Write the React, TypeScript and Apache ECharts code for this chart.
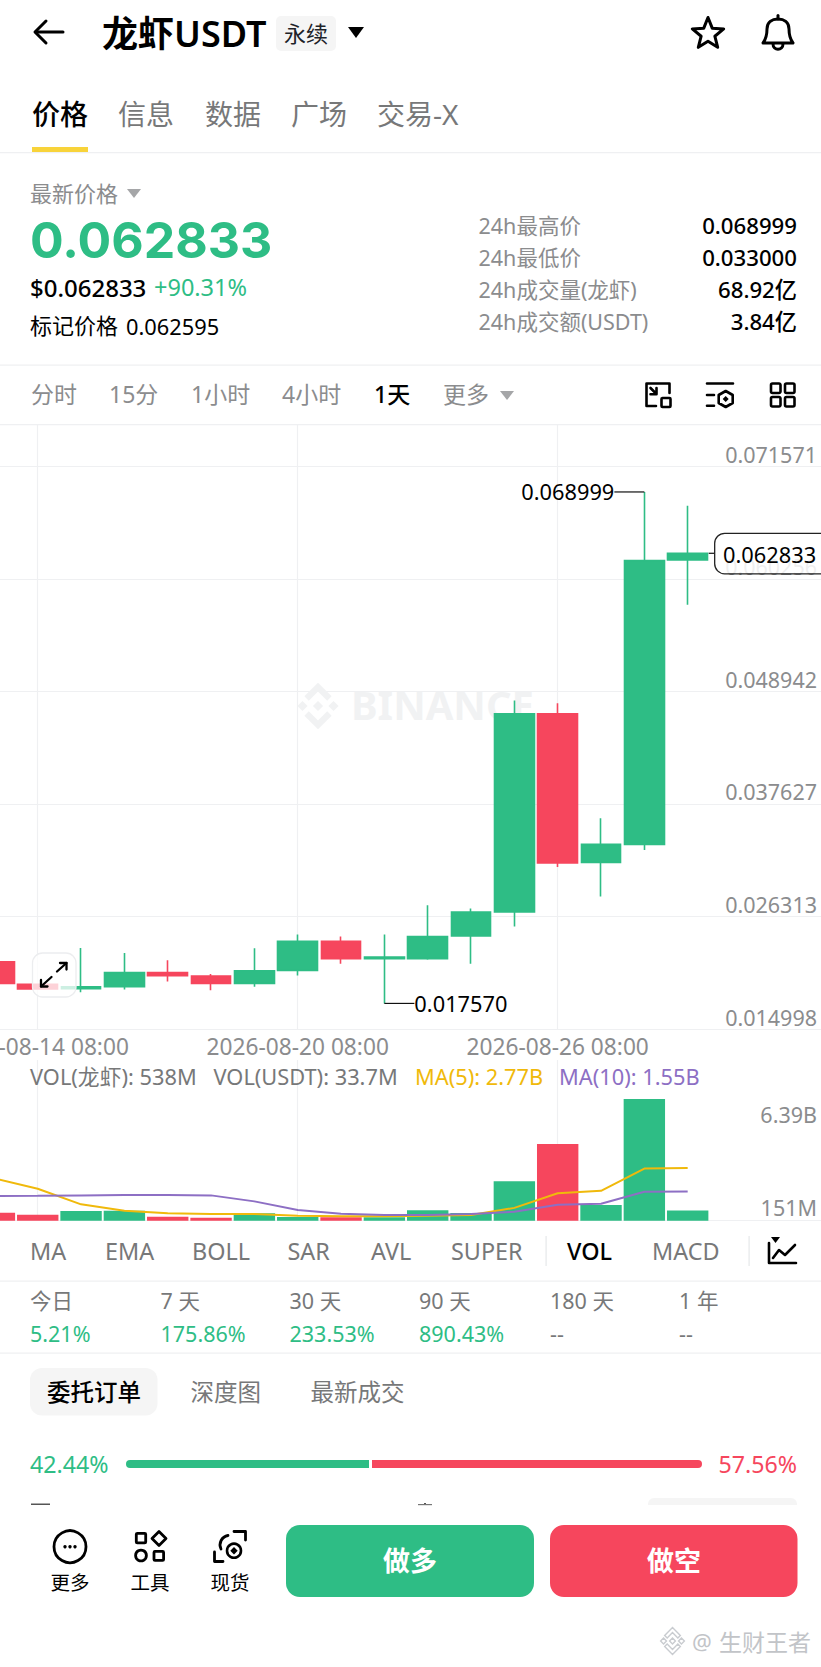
import React, { useEffect, useRef } from "react";
import * as echarts from "echarts";

const categories = [
  "2026-08-13 08:00", "2026-08-14 08:00", "2026-08-15 08:00", "2026-08-16 08:00", "2026-08-17 08:00",
  "2026-08-18 08:00", "2026-08-19 08:00", "2026-08-20 08:00", "2026-08-21 08:00", "2026-08-22 08:00",
  "2026-08-23 08:00", "2026-08-24 08:00", "2026-08-25 08:00", "2026-08-26 08:00", "2026-08-27 08:00",
  "2026-08-28 08:00", "2026-08-29 08:00", "2026-08-30 08:00", "2026-08-31 08:00", "2026-09-01 08:00", "2026-09-02 08:00",
];
const labelledDates = ["2026-08-14 08:00", "2026-08-20 08:00", "2026-08-26 08:00"];
// open, close, low, high
const candles = [
  [0.021757, 0.01957, 0.019372, 0.021956],
  [0.019491, 0.019014, 0.018934, 0.01957],
  [0.019054, 0.019252, 0.018696, 0.023149],
  [0.019252, 0.020684, 0.018974, 0.022632],
  [0.020684, 0.020366, 0.019769, 0.021916],
  [0.020326, 0.01957, 0.018894, 0.020525],
  [0.01957, 0.020843, 0.019252, 0.023109],
  [0.020882, 0.023825, 0.020366, 0.024501],
  [0.023825, 0.022075, 0.021558, 0.024302],
  [0.022075, 0.022234, 0.01757, 0.024501],
  [0.022075, 0.024302, 0.021956, 0.027443],
  [0.024342, 0.026767, 0.021558, 0.027125],
  [0.026767, 0.046687, 0.025296, 0.048039],
  [0.046687, 0.031697, 0.0313, 0.04776],
  [0.031737, 0.033566, 0.028318, 0.03619],
  [0.033566, 0.062114, 0.033009, 0.068999],
  [0.06215, 0.062833, 0.05766, 0.067601],
];
const volumes = [420e6, 315e6, 508e6, 525e6, 210e6, 151e6, 385e6, 193e6, 175e6, 175e6, 543e6, 403e6, 2.07e9, 4.03e9, 823e6, 6.39e9, 538e6];
const ma5 = [2.22e9, 1.68e9, 858e6, 525e6, 385e6, 350e6, 350e6, 263e6, 228e6, 228e6, 263e6, 298e6, 673e6, 1.44e9, 1.57e9, 2.74e9, 2.77e9];
const ma10 = [1.3e9, 1.31e9, 1.33e9, 1.35e9, 1.35e9, 1.33e9, 1.015e9, 560e6, 368e6, 298e6, 298e6, 350e6, 473e6, 840e6, 893e6, 1.52e9, 1.54e9];
const priceTicks = [0.014998, 0.026313, 0.037627, 0.048942, 0.060256, 0.071571];
const priceMin = 0.014998;
const priceMax = 0.075782;
const volMax = 8.44e9;
const volTopTick = [6.39e9];
const volLowTick = [151e6];
const extremes = [
  { idx: 15, value: 0.068999, label: "0.068999", side: -1 },
  { idx: 9, value: 0.01757, label: "0.017570", side: 1 },
];
const lastPrice = { idx: 16, value: 0.062833, label: "0.062833" };

const tabs = ["信息", "数据", "广场", "交易-X"];
const stats = [
  ["24h最高价", "0.068999"],
  ["24h最低价", "0.033000"],
  ["24h成交量(龙虾)", "68.92亿"],
  ["24h成交额(USDT)", "3.84亿"],
];
const intervals = ["分时", "15分", "1小时", "4小时", "1天", "更多"];
const indicators = ["MA", "EMA", "BOLL", "SAR", "AVL", "SUPER", "VOL", "MACD"];
const periodLabels = ["今日", "7 天", "30 天", "90 天", "180 天", "1 年"];
const periodValues = ["5.21%", "175.86%", "233.53%", "890.43%", "--", "--"];
const volLegend = ["VOL(龙虾): 538M", "VOL(USDT): 33.7M", "MA(5): 2.77B", "MA(10): 1.55B"];
const bookTabs = ["委托订单", "深度图", "最新成交"];

const GREEN = "#2EBD85";
const RED = "#F6465D";
const GREY = "#777879";
const LIGHT = "#8B8C8E";
const LINE = "#EFF0F2";
const FONT = '"Noto Sans", "Noto Sans CJK SC", sans-serif';

function diamond(cx: number, cy: number, r: number) {
  return `M${cx - r} ${cy}L${cx} ${cy - r}L${cx + r} ${cy}L${cx} ${cy + r}Z`;
}
function binanceD(cx: number, cy: number, s: number) {
  const c = (x: number, y: number) => `${cx + x * s} ${cy + y * s}`;
  return (
    diamond(cx, cy, 5.2 * s) +
    diamond(cx - 16 * s, cy, 5.2 * s) +
    diamond(cx + 16 * s, cy, 5.2 * s) +
    `M${c(0, -24)}L${c(14, -10)}L${c(9.5, -5.5)}L${c(0, -15)}L${c(-9.5, -5.5)}L${c(-14, -10)}Z` +
    `M${c(0, 24)}L${c(14, 10)}L${c(9.5, 5.5)}L${c(0, 15)}L${c(-9.5, 5.5)}L${c(-14, 10)}Z`
  );
}
function starPoints(cx: number, cy: number, R: number, r: number) {
  const pts: number[][] = [];
  for (let i = 0; i < 10; i++) {
    const a = -Math.PI / 2 + (i * Math.PI) / 5;
    const rad = i % 2 ? r : R;
    pts.push([cx + rad * Math.cos(a), cy + rad * Math.sin(a)]);
  }
  return pts;
}

const extendFrom = (d: string) => (echarts.graphic as any).extendPath(d, {});
echarts.graphic.registerShape("bnbMark", extendFrom(binanceD(318, 706, 0.97)));
echarts.graphic.registerShape("bnbSmall", extendFrom(binanceD(672.5, 1641, 0.56)));
echarts.graphic.registerShape(
  "bellIcon",
  extendFrom("M763 43C766 39 767 35 767 29C767 22 772 19 778 19C784 19 789 22 789 29C789 35 790 39 793 43ZM773 44C773 51 783 51 783 44")
);
echarts.graphic.registerShape("frameIcon", extendFrom("M656 406H646.5V383.5H669.5V393M650.5 388L656.5 394M656.5 388V394.3H650.5"));
echarts.graphic.registerShape("targetIcon", extendFrom("M707 383.5H733M707 395H714M707 405.7H714M725.7 391L732.7 395V403L725.7 407L718.7 403V395Z"));
echarts.graphic.registerShape("spotIcon", extendFrom("M234 1531.5H245.5V1540M214.5 1552V1561.5H223M228 1535.5A9.5 9.5 0 0 0 221 1549"));

const T = (text: string, x: number, y: number, size: number, fill: string, align = "left", weight: number | string = 400, family = FONT) => ({
  type: "text",
  z: 100,
  x,
  y,
  silent: true,
  style: { text, fill, fontSize: size, fontWeight: weight, fontFamily: family, textAlign: align, textVerticalAlign: "middle" },
});
const R = (x: number, y: number, width: number, height: number, fill: string, r: any = 0, z = 100) => ({
  type: "rect", z, silent: true, shape: { x, y, width, height, r }, style: { fill },
});
const Rule = (y: number) => R(0, y - 0.5, 821, 1.2, LINE);
const strokeStyle = (w = 3, c = "#000") => ({ stroke: c, lineWidth: w, fill: "none", lineCap: "round", lineJoin: "round" });
const PL = (points: number[][], w = 3, c = "#000") => ({ type: "polyline", z: 100, silent: true, shape: { points }, style: strokeStyle(w, c) });
const PG = (points: number[][], fill: string) => ({ type: "polygon", z: 100, silent: true, shape: { points }, style: { fill } });
const Icon = (type: string, w = 3) => ({ type, z: 100, silent: true, style: strokeStyle(w) });
const BoxS = (x: number, y: number, w: number, h: number, r = 2, lw = 3) => ({
  type: "rect", z: 100, silent: true, shape: { x, y, width: w, height: h, r }, style: strokeStyle(lw),
});

function uiElements() {
  const els: any[] = [];
  // header
  els.push(PL([[36, 32], [63, 32]]), PL([[46, 21], [35, 32], [46, 43]]));
  els.push(T("龙虾USDT", 102, 33, 36, "#000", "left", 600));
  els.push(R(276, 16, 60, 35, "#F5F5F5", 5));
  els.push(T("永续", 306, 33, 22, "#1E2329", "center"));
  els.push(PG([[348, 27], [364, 27], [356, 38]], "#000"));
  els.push({ type: "polygon", z: 100, silent: true, shape: { points: starPoints(708, 34, 16.5, 7.2) }, style: strokeStyle(3) });
  els.push(Icon("bellIcon"), PL([[778, 15.5], [778, 19]]));
  // tabs
  els.push(T("价格", 32, 113.5, 28, "#000", "left", 500));
  [118, 205, 291, 377].forEach((x, i) => els.push(T(tabs[i], x, 113.5, 28, GREY)));
  els.push(R(32, 147, 56, 5, "#F8D33A"), Rule(152.5));
  // price block
  els.push(T("最新价格", 30, 193, 22, LIGHT));
  els.push(PG([[127, 189], [141, 189], [134, 198]], "#A5A6A8"));
  els.push(T("0.062833", 30, 240, 50, GREEN, "left", 700, 'Inter, "Noto Sans", sans-serif'));
  els.push(T("$0.062833", 30, 287, 24, "#000", "left", 500));
  els.push(T("+90.31%", 154, 287, 23.5, GREEN));
  els.push(T("标记价格", 30, 325, 22, "#000"));
  els.push(T("0.062595", 126, 326, 21.8, "#000"));
  stats.forEach((s, i) => {
    els.push(T(s[0], 478.5, 225.7 + i * 32, 21.5, LIGHT));
    els.push(T(s[1], 797, 225.7 + i * 32, 22.2, "#000", "right", 500));
  });
  els.push(Rule(365), Rule(424.5));
  // intervals
  [31, 109, 191, 282, 374, 443].forEach((x, i) => els.push(T(intervals[i], x, 394, 23, i === 4 ? "#000" : LIGHT, "left", i === 4 ? 500 : 400)));
  els.push(PG([[500, 391], [514, 391], [507, 400]], "#A5A6A8"));
  els.push(Icon("frameIcon", 2.6), BoxS(661.5, 398, 9, 9, 1, 2.6));
  els.push(Icon("targetIcon", 2.6), PG([[725.7, 396], [728.7, 399], [725.7, 402], [722.7, 399]], "#000"));
  [[771, 383.5], [785, 383.5], [771, 397], [785, 397]].forEach((p) => els.push(BoxS(p[0], p[1], 9.5, 9.5, 1.5, 2.6)));
  // watermark + expand box
  els.push({ type: "bnbMark", z: 1, silent: true, style: { fill: "#F1F2F3" } });
  els.push({ type: "text", z: 1, x: 351, y: 704.5, silent: true, style: { text: "BINANCE", fill: "#F1F2F3", fontSize: 40, fontWeight: 700, fontFamily: FONT, textAlign: "left", textVerticalAlign: "middle" } });
  els.push({ type: "rect", z: 50, silent: true, shape: { x: 32.5, y: 953, width: 43.5, height: 44, r: 10 }, style: { fill: "rgba(255,255,255,0.76)", stroke: "#ECEDEF", lineWidth: 1.3 } });
  els.push(PL([[41, 986.5], [51.5, 977]], 2.3), PL([[41, 980], [41, 986.5], [47.5, 986.5]], 2.3));
  els.push(PL([[66.5, 963], [57, 971.5]], 2.3), PL([[60, 963], [66.5, 963], [66.5, 969.5]], 2.3));
  // vol legend
  els.push(T(volLegend[0], 30, 1076, 21.8, GREY), T(volLegend[1], 213.5, 1076, 21.8, GREY), T(volLegend[2], 415, 1076, 21.8, "#F0B90B"), T(volLegend[3], 559, 1076, 21.8, "#8D6FC4"));
  // indicator row
  [30, 105, 192, 287.5, 371, 451, 567, 652].forEach((x, i) => els.push(T(indicators[i], x, 1251, 23.4, i === 6 ? "#000" : GREY, "left", i === 6 ? 500 : 400)));
  els.push(R(545.5, 1236, 1.2, 30, "#E6E8EA"), R(748.5, 1236, 1.2, 30, "#E6E8EA"));
  els.push(PL([[769, 1243], [769, 1263], [796, 1263]], 2.6), PL([[773, 1258], [779, 1250], [785, 1255], [795, 1245]], 2.6));
  els.push(PG([[771, 1237], [780, 1237], [775.5, 1243]], "#000"));
  els.push(Rule(1281), Rule(1353));
  // periods
  [30, 160.5, 289.5, 419, 550, 679].forEach((x, i) => {
    els.push(T(periodLabels[i], x, 1300, 21.5, GREY));
    els.push(T(periodValues[i], x, 1333.5, 21.5, i < 4 ? GREEN : GREY));
  });
  // order-book tabs
  els.push(R(30, 1368, 127.5, 47.5, "#F5F5F5", 12));
  els.push(T(bookTabs[0], 47, 1391.5, 23.5, "#000", "left", 500), T(bookTabs[1], 190.5, 1391.5, 23.5, GREY), T(bookTabs[2], 310.5, 1391.5, 23.5, GREY));
  els.push(T("42.44%", 30, 1464, 23.2, GREEN), T("57.56%", 797, 1464, 23.2, RED, "right"));
  els.push(R(126, 1460, 243, 8, GREEN, [4, 0, 0, 4]), R(372, 1460, 330, 8, RED, [0, 4, 4, 0]));
  // clipped row
  els.push(R(31, 1503.5, 19, 1.5, "#555"), R(424, 1503, 2, 2, "#555"), R(418, 1504, 14, 1.2, "#777"));
  els.push(R(648, 1498, 149, 7, "#F5F5F5", [6, 6, 0, 0]));
  // bottom bar
  els.push({ type: "circle", z: 100, silent: true, shape: { cx: 70, cy: 1546.7, r: 16 }, style: strokeStyle(2.8) });
  [65, 70, 75].forEach((x) => els.push({ type: "circle", z: 100, silent: true, shape: { cx: x, cy: 1546.7, r: 1.7 }, style: { fill: "#000" } }));
  els.push(T("更多", 70, 1582, 19.5, "#000", "center"), T("工具", 150, 1582, 19.5, "#000", "center"), T("现货", 230, 1582, 19.5, "#000", "center"));
  els.push(BoxS(136.3, 1533.3, 9.4, 9.6, 1, 2.8), BoxS(154, 1551.4, 9.6, 9, 1, 2.8));
  els.push({ type: "polygon", z: 100, silent: true, shape: { points: [[159, 1531.5], [166, 1538.5], [159, 1545.5], [152, 1538.5]] }, style: strokeStyle(2.8) });
  els.push({ type: "circle", z: 100, silent: true, shape: { cx: 141, cy: 1555.5, r: 5.4 }, style: strokeStyle(2.8) });
  els.push(Icon("spotIcon", 2.8), { type: "circle", z: 100, silent: true, shape: { cx: 234, cy: 1550.7, r: 7 }, style: strokeStyle(2.6) });
  els.push(PG([[234, 1547], [237.7, 1550.7], [234, 1554.4], [230.3, 1550.7]], "#000"));
  els.push(R(286, 1525, 248, 72, GREEN, 14), R(550, 1525, 247.5, 72, RED, 14));
  els.push(T("做多", 410, 1560, 27, "#fff", "center", 600), T("做空", 674, 1560, 27, "#fff", "center", 600));
  // image watermark
  els.push({ type: "bnbSmall", z: 100, silent: true, style: { fill: "none", stroke: "#C9CCD0", lineWidth: 1.4 } });
  els.push(T("@", 692, 1641, 22, "#C2C4C8"), T("生财王者", 719, 1641.5, 23, "#C2C4C8"));
  return els;
}

const dirColor = (i: number) => (candles[i][1] >= candles[i][0] ? GREEN : RED);
const showDate = (_: number, v: string) => labelledDates.includes(v);

const option: any = {
  animation: false,
  backgroundColor: "#fff",
  textStyle: { fontFamily: FONT },
  grid: [
    { left: -5.6, right: -40, top: 424.5, height: 604.5, outerBoundsMode: "none", containLabel: false },
    { left: -5.6, right: -40, top: 1060, height: 160.7, outerBoundsMode: "none", containLabel: false },
  ],
  xAxis: [
    {
      type: "category", gridIndex: 0, data: categories, boundaryGap: false,
      axisLine: { lineStyle: { color: LINE, width: 1.2 } }, axisTick: { show: false },
      axisLabel: { interval: showDate, color: LIGHT, fontSize: 22.7, margin: 6, fontFamily: FONT, hideOverlap: false },
      splitLine: { show: true, interval: showDate, lineStyle: { color: LINE, width: 1.2 } },
    },
    {
      type: "category", gridIndex: 1, data: categories, boundaryGap: false,
      axisLine: { lineStyle: { color: LINE, width: 1.2 } }, axisTick: { show: false }, axisLabel: { show: false },
      splitLine: { show: true, interval: showDate, lineStyle: { color: LINE, width: 1.2 } },
    },
  ],
  yAxis: [
    {
      type: "value", gridIndex: 0, position: "right", offset: -44, min: priceMin, max: priceMax, scale: true,
      axisLine: { show: false }, axisTick: { show: false, customValues: priceTicks },
      axisLabel: { inside: true, margin: 0, customValues: priceTicks, formatter: (v: number) => v.toFixed(6), color: LIGHT, fontSize: 21.5, verticalAlign: "bottom", fontFamily: FONT, lineHeight: 24 },
      splitLine: { show: true, lineStyle: { color: LINE, width: 1.2 } },
    },
    {
      type: "value", gridIndex: 1, position: "right", offset: -44, min: 0, max: volMax,
      axisLine: { show: false }, axisTick: { show: false, customValues: volTopTick }, splitLine: { show: false },
      axisLabel: { inside: true, margin: 0, customValues: volTopTick, formatter: () => "6.39B", color: LIGHT, fontSize: 21.5, verticalAlign: "top", lineHeight: 31, fontFamily: FONT },
    },
    {
      type: "value", gridIndex: 1, position: "right", offset: -44, min: 0, max: volMax,
      axisLine: { show: false }, axisTick: { show: false, customValues: volLowTick }, splitLine: { show: false },
      axisLabel: { inside: true, margin: 0, customValues: volLowTick, formatter: () => "151M", color: LIGHT, fontSize: 21.5, verticalAlign: "bottom", fontFamily: FONT },
    },
  ],
  graphic: { elements: [] as any[] },
  series: [
    {
      type: "candlestick", xAxisIndex: 0, yAxisIndex: 0, barWidth: 40,
      itemStyle: { color: GREEN, color0: RED, borderColor: GREEN, borderColor0: RED, borderWidth: 1.6 },
      data: candles,
    },
    {
      type: "custom", xAxisIndex: 0, yAxisIndex: 0, z: 5, clip: false,
      data: extremes.map((e) => [e.idx, e.value]),
      encode: { x: 0, y: 1 },
      renderItem: (params: any, api: any) => {
        const e = extremes[params.dataIndex];
        const p = api.coord([api.value(0), api.value(1)]);
        const end = p[0] + e.side * 30;
        return {
          type: "group",
          children: [
            { type: "line", shape: { x1: p[0], y1: p[1], x2: end, y2: p[1] }, style: { stroke: "#111", lineWidth: 1.2 } },
            { type: "text", x: end, y: p[1], style: { text: e.label, fill: "#000", fontSize: 21.8, fontFamily: FONT, textAlign: e.side < 0 ? "right" : "left", textVerticalAlign: "middle" } },
          ],
        };
      },
    },
    {
      type: "custom", xAxisIndex: 0, yAxisIndex: 0, z: 6, clip: false,
      data: [[lastPrice.idx, lastPrice.value]],
      encode: { x: 0, y: 1 },
      renderItem: (_: any, api: any) => {
        const p = api.coord([api.value(0), api.value(1)]);
        return {
          type: "group",
          children: [
            { type: "line", shape: { x1: p[0] + 21, y1: p[1], x2: p[0] + 27, y2: p[1] }, style: { stroke: "#111", lineWidth: 1.2 } },
            { type: "rect", shape: { x: p[0] + 27, y: p[1] - 20, width: 130, height: 40.5, r: 10 }, style: { fill: "rgba(255,255,255,0.86)", stroke: "#222", lineWidth: 1.3 } },
            { type: "text", x: p[0] + 128.5, y: p[1] + 1, style: { text: lastPrice.label, fill: "#000", fontSize: 21.8, fontFamily: FONT, textAlign: "right", textVerticalAlign: "middle" } },
          ],
        };
      },
    },
    {
      type: "bar", xAxisIndex: 1, yAxisIndex: 1, barWidth: 41.4,
      data: volumes.map((v, i) => ({ value: v, itemStyle: { color: dirColor(i) } })),
    },
    { type: "line", xAxisIndex: 1, yAxisIndex: 1, data: ma5, showSymbol: false, lineStyle: { color: "#F0B90B", width: 2 }, z: 4 },
    { type: "line", xAxisIndex: 1, yAxisIndex: 1, data: ma10, showSymbol: false, lineStyle: { color: "#8D6FC4", width: 2 }, z: 4 },
  ],
};

export default function App() {
  const ref = useRef<HTMLDivElement>(null);
  useEffect(() => {
    if (!ref.current) return;
    const chart = echarts.init(ref.current, undefined, { renderer: "svg" });
    option.graphic.elements = uiElements();
    chart.setOption(option);
    return () => chart.dispose();
  }, []);
  return <div ref={ref} style={{ position: "absolute", left: 0, top: 0, width: 821, height: 1667, background: "#fff", overflow: "hidden" }} />;
}
